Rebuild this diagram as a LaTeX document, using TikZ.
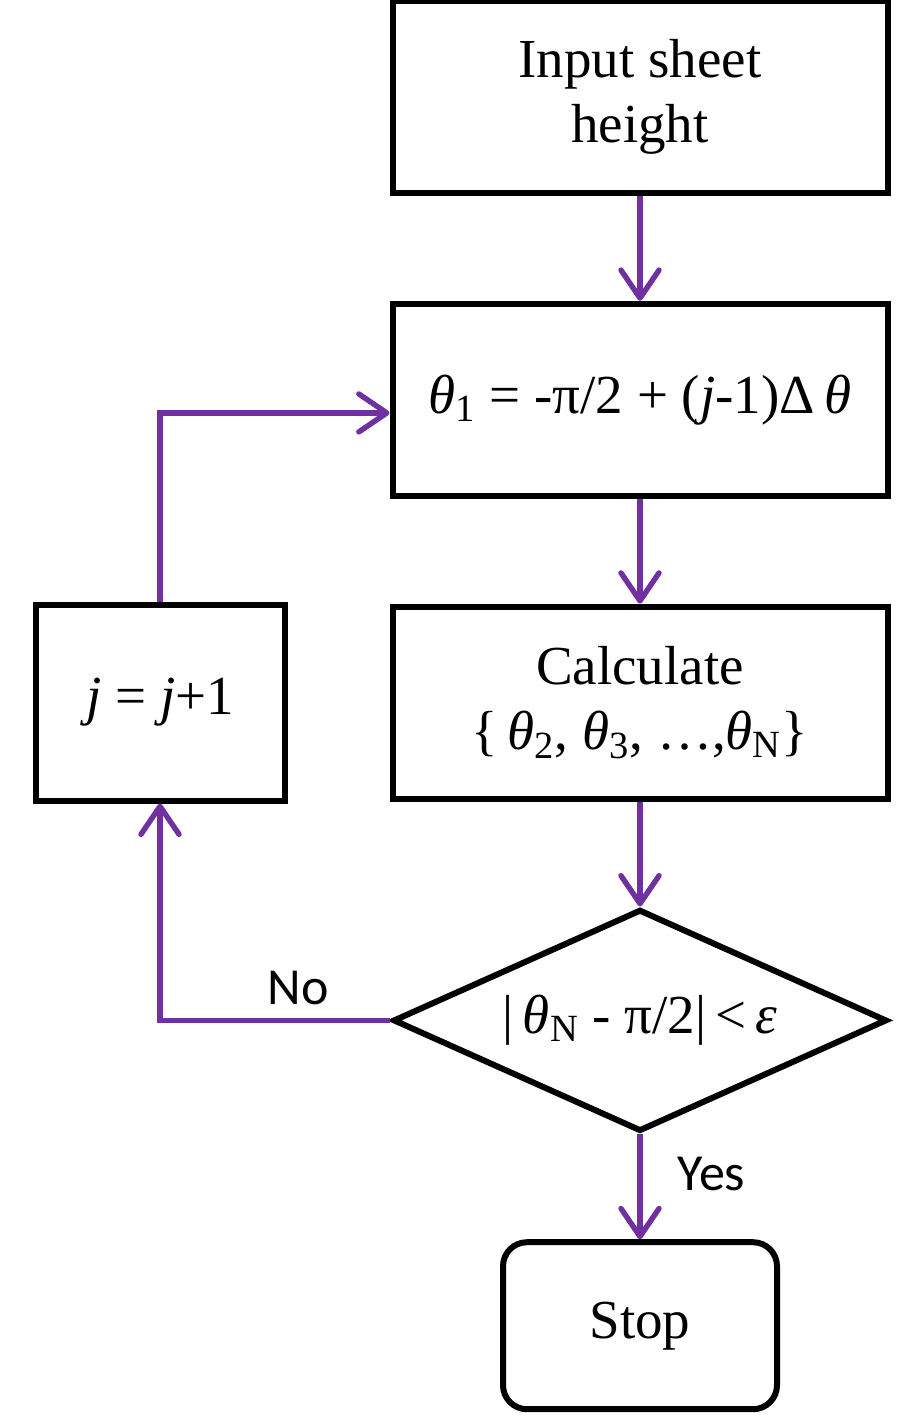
\documentclass[tikz,border=0pt]{standalone}
\usepackage{fontspec}
\setmainfont{Liberation Serif}
\newfontfamily\labelfont{Carlito}
\usetikzlibrary{positioning, shapes, arrows.meta}
\definecolor{FlowPurple}{RGB}{112, 48, 160}

\begin{document}
\begin{tikzpicture}[
    x=1pt, y=1pt,
    node distance=52.4pt,
    every node/.style={align=center, font=\fontsize{27.5}{32.5}\selectfont},
    process/.style={draw, rectangle, line width=3pt, minimum width=247.5pt, minimum height=96pt, inner sep=0pt},
    decision/.style={draw, diamond, aspect=2.2, line width=3pt, minimum width=247pt, minimum height=111pt, inner sep=0pt},
    terminal/.style={draw, rectangle, rounded corners=12pt, line width=3pt, minimum width=137pt, minimum height=83.5pt},
    flow/.style={draw=FlowPurple, line width=2.7pt, -{Straight Barb[length=14pt, width=19pt, round]}},
    answer/.style={font=\labelfont\fontsize{26}{30}\selectfont}
  ]
    \useasboundingbox (0,0) rectangle (452,-712);
    \node[process] (input) at (320,-48.5) {Input sheet\\height};
    \node[process, below=of input] (theta) {\textit{θ}\textsubscript{1} = -π/2 + (\textit{j}-1)Δ\,\textit{θ}};
    \node[process, below=of theta] (calc) {Calculate\\\{\,\textit{θ}\textsubscript{2}, \textit{θ}\textsubscript{3}, …,\textit{θ}\textsubscript{N}\}};
    \node[process, left=51pt of calc, minimum width=124.5pt, minimum height=98pt] (jnext) {\textit{j} = \textit{j}+1};
    \node[decision, below=of calc] (check) {|\,\textit{θ}\textsubscript{N} - π/2|\,<\,\textit{ε}};
    \node[terminal, below=of check] (stop) {Stop};

    \draw[flow] (input) -- (theta);
    \draw[flow] (theta) -- (calc);
    \draw[flow] (calc) -- (check);
    \draw[flow] (check) -- node[answer, right=14pt, pos=0.38] {Yes} (stop);
    \draw[flow] (check.west) -| node[answer, above=3pt, pos=0.2] {No} (jnext.south);
    \draw[flow] (jnext.north) |- (theta.183);
  \end{tikzpicture}
\end{document}
